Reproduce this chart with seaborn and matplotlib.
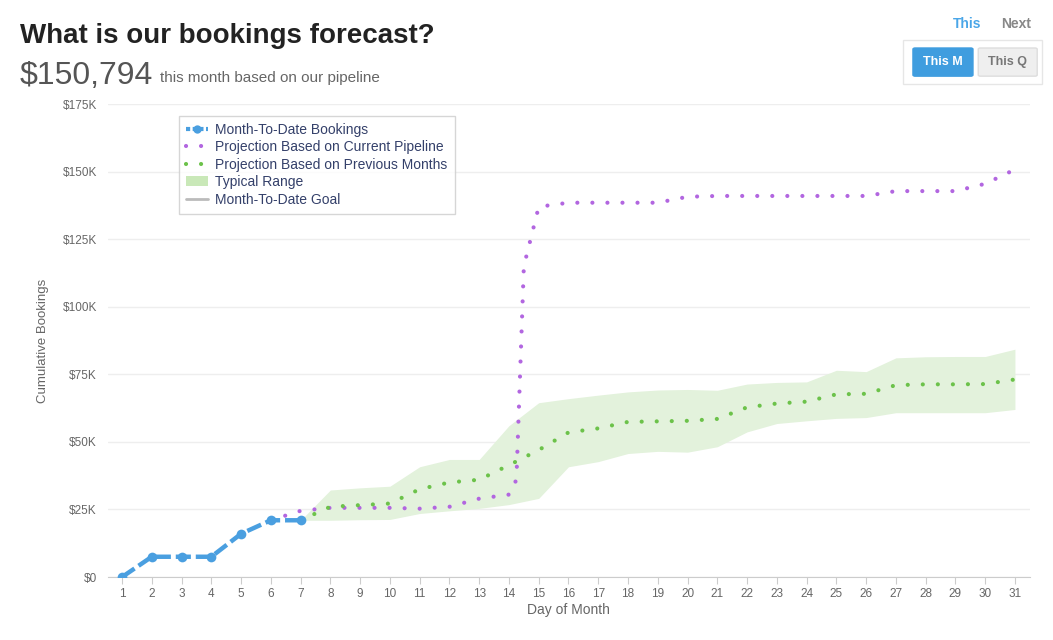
import numpy as np
import pandas as pd
import matplotlib.pyplot as plt
import seaborn as sns
from matplotlib.lines import Line2D
from matplotlib.patches import Patch, FancyBboxPatch

# month-to-date bookings (actuals)
mtd_days = [1, 2, 3, 4, 5, 6, 7]
mtd_vals = [0, 7500, 7500, 7500, 16000, 21000, 21000]

# projection based on current pipeline
pipe_days = [6, 7, 8, 9, 10, 11, 12, 13, 14, 14.25, 14.5, 15, 16, 17, 18, 19, 20,
             21, 22, 23, 24, 25, 26, 27, 28, 29, 30, 31]
pipe_vals = [21000, 24500, 25600, 25600, 25600, 25300, 26000, 29000, 30500, 36000,
             115000, 137000, 138500, 138500, 138500, 138500, 140700, 141000, 141000,
             141000, 141000, 141000, 141000, 142800, 142800, 142800, 145500, 150794]

# projection based on previous months + typical range
prev_days = list(range(7, 32))
prev_vals = [21000, 26000, 26600, 27200, 32500, 35000, 36000, 41400, 47000, 53500,
             55000, 57400, 57600, 57800, 58500, 62800, 64200, 64900, 67600, 67800,
             71000, 71300, 71300, 71400, 73100]
range_hi = [21000, 32200, 33000, 33600, 40800, 43500, 43500, 56000, 64500, 66000,
            67300, 68500, 69200, 69400, 69100, 71400, 72000, 72200, 76500, 76000,
            81100, 81500, 81600, 81600, 84300]
range_lo = [21000, 21000, 21200, 21300, 23500, 24500, 25400, 26800, 29100, 40800,
            42700, 45700, 46500, 46200, 48200, 53700, 56800, 57800, 58700, 59000,
            60800, 60800, 60800, 60800, 62000]

blue = "#4a9fe0"
purple = "#b266e0"
green = "#6cc24a"
band = "#e3f2dc"

sns.set_style("white")
plt.rcParams['font.family'] = ['Liberation Sans', 'DejaVu Sans']

fig = plt.figure(figsize=(10.53, 6.4), dpi=100)
ax = fig.add_axes([0.1026, 0.0984, 0.8754, 0.739])

ax.fill_between(prev_days, range_lo, range_hi, color=band, lw=0, zorder=1)

dot_style = dict(linestyle=(0, (0.01, 3.6)), dash_capstyle="round", linewidth=3.0)
sns.lineplot(x=pipe_days, y=pipe_vals, ax=ax, color=purple, zorder=3, **dot_style)
sns.lineplot(x=prev_days, y=prev_vals, ax=ax, color=green, zorder=4, **dot_style)
sns.lineplot(x=mtd_days, y=mtd_vals, ax=ax, color=blue, linewidth=3.2,
             linestyle=(0, (3.4, 1.1)), marker="o", markersize=7,
             markeredgewidth=0, zorder=5)

ax.set_xlim(0.53, 31.5)
ax.set_ylim(0, 175000)
ax.set_xticks(range(1, 32))
ax.set_yticks(range(0, 175001, 25000))
ax.set_yticklabels(["$0"] + ["$%dK" % (v // 1000) for v in range(25000, 175001, 25000)])
ax.tick_params(axis="y", length=0, labelsize=8.5, labelcolor="#666666", pad=8)
ax.tick_params(axis="x", length=5, color="#cccccc", labelsize=8.5,
               labelcolor="#666666", bottom=True, pad=3)
ax.grid(axis="y", color="#eeeeee", linewidth=1)
for s in ["top", "right", "left"]:
    ax.spines[s].set_visible(False)
ax.spines["bottom"].set_color("#cccccc")
ax.set_xlabel("Day of Month", fontsize=10, color="#666666", labelpad=2)
ax.set_ylabel("Cumulative Bookings", fontsize=9.5, color="#666666", labelpad=10)

handles = [
    Line2D([], [], color=blue, linewidth=3, linestyle=(0, (1, 0.6)), marker="o",
           markersize=6, markeredgewidth=0),
    Line2D([], [], color=purple, **dot_style),
    Line2D([], [], color=green, **dot_style),
    Patch(facecolor="#c9e8b8", edgecolor="none"),
    Line2D([], [], color="#bbbbbb", linewidth=2),
]
labels = ["Month-To-Date Bookings", "Projection Based on Current Pipeline",
          "Projection Based on Previous Months", "Typical Range", "Month-To-Date Goal"]
leg = ax.legend(handles, labels, loc="upper left", bbox_to_anchor=(0.069, 0.99),
                fontsize=10, frameon=True, handlelength=1.6, handletextpad=0.55,
                labelspacing=0.25, borderpad=0.5, fancybox=False)
leg.get_frame().set_edgecolor("#cccccc")
leg.get_frame().set_linewidth(1)
for t in leg.get_texts():
    t.set_color("#34406a")

# header texts
fig.text(0.019, 0.933, "What is our bookings forecast?", fontsize=20,
         fontweight="bold", color="#222222")
fig.text(0.019, 0.868, "$150,794", fontsize=23, color="#555555")
fig.text(0.152, 0.872, "this month based on our pipeline", fontsize=11, color="#666666")

# period switcher in the corner
fig.text(0.918, 0.957, "This", fontsize=10, fontweight="bold", color="#4aa6e8", ha="center")
fig.text(0.965, 0.957, "Next", fontsize=10, fontweight="bold", color="#888888", ha="center")
fig.patches.append(FancyBboxPatch((0.858, 0.868), 0.132, 0.07, boxstyle="square,pad=0",
                                  transform=fig.transFigure, facecolor="white",
                                  edgecolor="#e6e6e6", linewidth=1))
fig.patches.append(FancyBboxPatch((0.869, 0.883), 0.053, 0.04, boxstyle="round,pad=0.002",
                                  transform=fig.transFigure, facecolor="#3f9ddf",
                                  edgecolor="#3f9ddf", linewidth=1))
fig.patches.append(FancyBboxPatch((0.931, 0.883), 0.052, 0.04, boxstyle="round,pad=0.002",
                                  transform=fig.transFigure, facecolor="#efefef",
                                  edgecolor="#dddddd", linewidth=1))
fig.text(0.8955, 0.903, "This M", fontsize=9, fontweight="bold", color="white",
         ha="center", va="center")
fig.text(0.957, 0.903, "This Q", fontsize=9, fontweight="bold", color="#777777",
         ha="center", va="center")

fig.savefig("out.png", dpi=100)
